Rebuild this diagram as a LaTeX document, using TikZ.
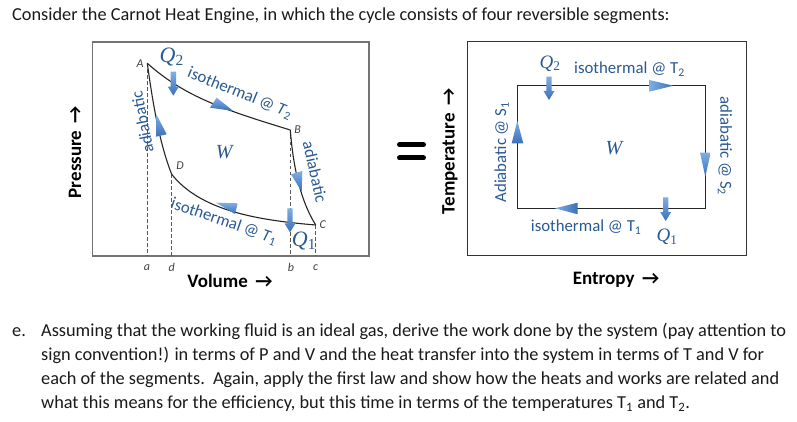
\documentclass[tikz,border=0pt]{standalone}
\usepackage{fontspec}
\setmainfont{Carlito}
\newfontfamily\qfont{Liberation Serif}
\definecolor{txtblue}{HTML}{2A5A92}
\definecolor{arrowlo}{HTML}{3A70B8}
\definecolor{arrowhi}{HTML}{80AEE6}
\definecolor{bodyink}{HTML}{1A1A1A}
\newcommand{\fs}[1]{\fontsize{#1}{#1}\selectfont}
\newcommand{\Qlab}[1]{{\qfont\itshape Q}\textsubscript{\qfont #1}}
\tikzset{
  x=1pt,y=-1pt,
  bodytext/.style={anchor=base west,inner sep=0,text=bodyink,font=\fs{18.3}},
  axislab/.style={inner sep=0,text=black,font=\fs{19}\bfseries},
  bluelab/.style={inner sep=0,text=txtblue,font=\fs{16.8}},
  qlab/.style={inner sep=0,text=txtblue,font=\fs{19}},
  qlabbig/.style={inner sep=0,text=txtblue,font=\fs{22}},
  worklab/.style={inner sep=0,text=txtblue,font=\fs{20}\qfont\itshape},
  ptlab/.style={inner sep=0,text=black!75,font=\fs{12}\itshape},
  frameL/.style={draw=black!55,line width=1.3pt},
  frameR/.style={draw=black!80,line width=1.2pt},
  cycle/.style={draw=black!85,line width=1.1pt},
  guide/.style={draw=black!65,line width=.8pt,dash pattern=on 3.5pt off 2.5pt},
  tri/.style={top color=arrowhi,bottom color=arrowlo,draw=none},
  tribar/.style={left color=arrowhi,right color=arrowlo,draw=none},
  downblock/.style={top color=arrowhi,bottom color=arrowlo,draw=none},
  eqbar/.style={draw=black,line width=5pt,line cap=round},
}
\newcommand{\blockdown}[3]{%
  \path[downblock] (#1-2.7,#2) -- (#1+2.7,#2) -- (#1+2.7,#3-9) -- (#1+5.5,#3-9) -- (#1,#3) -- (#1-5.5,#3-9) -- (#1-2.7,#3-9) -- cycle;}
\begin{document}
\begin{tikzpicture}
\useasboundingbox (0,0) rectangle (797,422);
\fill[white] (0,0) rectangle (797,422);
% heading
\node[bodytext] (head) at (12,20.5) {Consider the Carnot Heat Engine, in which the cycle consists of four reversible segments:};
% left chart
\draw[frameL] (92.5,42) rectangle (369,256);
\coordinate (A) at (147.3,63.3);
\coordinate (B) at (290.3,130);
\coordinate (C) at (315.7,225);
\coordinate (D) at (171.7,174.3);
\coordinate (a0) at (147.3,256);
\coordinate (b0) at (290.3,256);
\coordinate (c0) at (315.7,256);
\coordinate (d0) at (171.7,256);
\draw[guide] (A) -- (a0);
\draw[guide] (B) -- (b0);
\draw[guide] (C) -- (c0);
\draw[guide] (D) -- (d0);
\draw[cycle] (A) .. controls (185,97) and (225,110) .. (B);
\draw[cycle] (B) .. controls (293,165) and (300,200) .. (C);
\draw[cycle] (D) .. controls (200,210) and (255,220) .. (C);
\draw[cycle] (D) .. controls (160,145) and (153,105) .. (A);
\path[tri] (233.3,111) -- (216.7,97.7) -- (210,107.7) -- cycle;
\path[tri] (156.7,115) -- (156,136.7) -- (166.7,134.3) -- cycle;
\path[tri] (301.7,191.7) -- (291,174.3) -- (302.3,171) -- cycle;
\path[tri] (216,202.7) -- (237.7,203.3) -- (235,214) -- cycle;
\blockdown{173.3}{71.7}{95.7}
\blockdown{290}{208.3}{232.3}
\node[ptlab] (lA) at (140,64) {A};
\node[ptlab] (lB) at (297.7,129.3) {B};
\node[ptlab] (lC) at (322.7,225) {C};
\node[ptlab] (lD) at (180,166) {D};
\node[ptlab] (la) at (147,267.5) {a};
\node[ptlab] (ld) at (171.7,267.5) {d};
\node[ptlab] (lb) at (291,267.5) {b};
\node[ptlab] (lc) at (315.5,267.5) {c};
\node[qlabbig] (q2l) at (171.7,57) {\Qlab{2}};
\node[qlabbig] (q1l) at (304,241) {\Qlab{1}};
\node[worklab] (wl) at (224.3,151.7) {W};
\node[bluelab,rotate=-22] (isoTwoL) at (240,93.5) {isothermal @ \textit{T}\textsubscript{2}};
\node[bluelab,rotate=-19] (isoOneL) at (224,221.7) {isothermal @ \textit{T}\textsubscript{1}};
\node[bluelab,rotate=101] (adiaL) at (142.3,122.3) {adiabatic};
\node[bluelab,rotate=-77.5] (adiaR) at (315,171.7) {adiabatic};
\node[axislab,rotate=90] (pres) at (75,152) {Pressure \,→};
\node[axislab,anchor=base] (vol) at (230,287) {Volume \,→};
% equals
\coordinate (e1a) at (399.5,144.7);
\coordinate (e1b) at (423.5,144.7);
\coordinate (e2a) at (399.5,158);
\coordinate (e2b) at (423.5,158);
\draw[eqbar] (e1a) -- (e1b);
\draw[eqbar] (e2a) -- (e2b);
% right chart
\draw[frameR] (467.7,41.7) rectangle (746.7,255.7);
\draw[cycle] (517.3,85.7) rectangle (705.3,208.3);
\path[tribar] (673.3,85.7) -- (649.3,80) -- (649.3,91.7) -- cycle;
\path[tri] (517.3,121) -- (511.7,143.3) -- (523.3,143.3) -- cycle;
\path[tri] (705.3,176.7) -- (700,152.7) -- (710.7,152.7) -- cycle;
\path[tribar] (555,208.3) -- (577.7,202.7) -- (577.7,214.3) -- cycle;
\blockdown{549}{76.7}{100}
\blockdown{665.7}{197.3}{221}
\node[qlab] (q2r) at (550,63.3) {\Qlab{2}};
\node[qlab] (q1r) at (667,237) {\Qlab{1}};
\node[worklab] (wr) at (614,148) {W};
\node[bluelab,anchor=base west] (isoTwoR) at (574,73.5) {isothermal @ T\textsubscript{2}};
\node[bluelab,anchor=base west] (isoOneR) at (530.7,231.7) {isothermal @ T\textsubscript{1}};
\node[bluelab,rotate=90] (adiaS1) at (501.7,152.3) {Adiabatic @ S\textsubscript{1}};
\node[bluelab,rotate=-90] (adiaS2) at (725,146) {adiabatic @ S\textsubscript{2}};
\node[axislab,rotate=90] (temp) at (450,151.5) {Temperature \,→};
\node[axislab,anchor=base] (ent) at (616,284) {Entropy \,→};
% question
\node[bodytext] (e) at (12,336) {e.};
\node[bodytext] (l1) at (41,336) {Assuming that the working fluid is an ideal gas, derive the work done by the system (pay attention to};
\node[bodytext] (l2) at (41,360.3) {sign convention!) in terms of P and V and the heat transfer into the system in terms of T and V for};
\node[bodytext] (l3) at (41,384.5) {each of the segments.\ \ Again, apply the first law and show how the heats and works are related and};
\node[bodytext] (l4) at (41,408.7) {what this means for the efficiency, but this time in terms of the temperatures T\textsubscript{1} and T\textsubscript{2}.};
\end{tikzpicture}
\end{document}
